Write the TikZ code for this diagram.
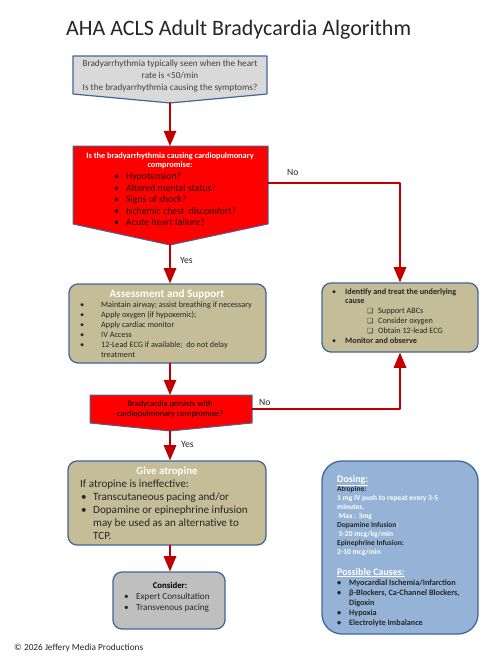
\documentclass[tikz,border=0pt]{standalone}
\usepackage{fontspec}
\setmainfont{Carlito}
\newfontfamily\symfont{DejaVu Sans}
\usetikzlibrary{arrows}
\definecolor{boxline}{HTML}{41679A}
\definecolor{boxgray}{HTML}{D9D9D9}
\definecolor{consgray}{HTML}{BFBFBF}
\definecolor{boxtan}{HTML}{C4BD97}
\definecolor{dosblue}{HTML}{95B3D7}
\definecolor{flowred}{HTML}{C00000}
\definecolor{darktext}{HTML}{262626}

\begin{document}
\begin{tikzpicture}[line cap=round,line join=round,>=triangle 45,x=1pt,y=-1pt,
    rbox/.style={draw=boxline,line width=1.3pt,rounded corners=9pt,fill=boxtan,inner sep=0pt},
    flow/.style={->,draw=flowred,line width=2.6pt},
    lbl/.style={anchor=base west,inner sep=0pt,text=darktext},
    ctr/.style={anchor=base,inner sep=0pt,text=darktext}]
      \useasboundingbox (0,0) rectangle (500,667);
      \fill[white] (0,0) rectangle (500,667);

      % title
      \node[lbl,font=\fontsize{22}{26}\selectfont] (title) at (66,35) {AHA ACLS Adult Bradycardia Algorithm};

      % start box
      \filldraw[fill=boxgray,draw=boxline,line width=1.2pt] (73,56) -- (267,56) -- (267,94) -- (170,103) -- (73,94) -- cycle;
      \coordinate (q0) at (170,103);
      \node[ctr,text=black!75,font=\fontsize{9.2}{11}\selectfont] (q0a) at (170,66) {Bradyarrhythmia typically seen when the heart};
      \node[ctr,text=black!75,font=\fontsize{9.2}{11}\selectfont] (q0b) at (170,78) {rate is <50/min};
      \node[ctr,text=black!75,font=\fontsize{9.2}{11}\selectfont] (q0c) at (170,90) {Is the bradyarrhythmia causing the symptoms?};

      % first decision
      \filldraw[fill=red,draw=boxline,line width=1pt] (73,146) -- (268,146) -- (268,224) -- (170,245) -- (73,224) -- cycle;
      \coordinate (q1 top) at (170,146);
      \coordinate (q1 tip) at (170,245);
      \coordinate (q1 east) at (268,183);
      \node[ctr,text=white,font=\bfseries\fontsize{8.3}{10}\selectfont] (q1a) at (170,158.5) {Is the bradyarrhythmia causing cardiopulmonary};
      \node[ctr,text=white,font=\bfseries\fontsize{8.3}{10}\selectfont] (q1b) at (170,167.5) {compromise:};
      \foreach \y/\t in {179/Hypotension?,191/Altered mental status?,202/Signs of shock?,214/Ischemic chest\ \ discomfort?,225/Acute heart failure?}{
        \node[lbl,text=black!85!red,font=\fontsize{9.8}{12}\selectfont] at (114,\y) {•};
        \node[lbl,text=black!85!red,font=\fontsize{9.8}{12}\selectfont] at (126,\y) {\t};
      }

      % assessment and support
      \node[rbox,minimum width=197pt,minimum height=79pt] (assess) at (167.5,323.5) {};
      \node[ctr,text=white,font=\bfseries\fontsize{11.2}{13}\selectfont] (assesst) at (167,297) {Assessment and Support};
      \foreach \y/\t in {307/{Maintain airway; assist breathing if necessary},317/{Apply oxygen (if hypoxemic);},327/{Apply cardiac monitor},337/{IV Access},347.5/{12-Lead ECG if available;\ \ do not delay}}{
        \node[lbl,font=\fontsize{8.2}{10}\selectfont] at (80,\y) {•};
        \node[lbl,font=\fontsize{8.2}{10}\selectfont] at (101,\y) {\t};
      }
      \node[lbl,font=\fontsize{8.2}{10}\selectfont] at (101,357.5) {treatment};

      % treat underlying cause
      \node[rbox,minimum width=156pt,minimum height=69pt] (treat) at (400,317.5) {};
      \node[lbl,font=\fontsize{8.2}{10}\selectfont] at (332,294.5) {•};
      \node[lbl,font=\bfseries\fontsize{8.2}{10}\selectfont] at (345,294.5) {Identify and treat the underlying};
      \node[lbl,font=\bfseries\fontsize{8.2}{10}\selectfont] at (345,303.5) {cause};
      \foreach \y/\t in {313.5/Support ABCs,323.5/Consider oxygen,333.5/Obtain 12-lead ECG}{
        \node[lbl,font=\symfont\fontsize{7}{8}\selectfont] at (367,\y) {❑};
        \node[lbl,font=\fontsize{8.2}{10}\selectfont] at (378,\y) {\t};
      }
      \node[lbl,font=\fontsize{8.2}{10}\selectfont] at (332,343.5) {•};
      \node[lbl,font=\bfseries\fontsize{8.2}{10}\selectfont] at (345,343.5) {Monitor and observe};

      % second decision
      \filldraw[fill=red,draw=boxline,line width=1pt] (90,395) -- (252,395) -- (252,423) -- (170,431) -- (90,423) -- cycle;
      \coordinate (q2 top) at (170,395);
      \coordinate (q2 tip) at (170,431);
      \coordinate (q2 east) at (252,409);
      \node[ctr,text=black,font=\fontsize{8.4}{10}\selectfont] (q2a) at (170,406.5) {Bradycardia persists with};
      \node[ctr,text=black,font=\fontsize{8.4}{10}\selectfont] (q2b) at (170,416.5) {cardiopulmonary compromise?};

      % atropine
      \node[rbox,minimum width=198pt,minimum height=84pt] (atro) at (167,503) {};
      \node[ctr,text=white,font=\bfseries\fontsize{10.9}{13}\selectfont] (atrot) at (167,474) {Give atropine};
      \node[lbl,font=\fontsize{11.1}{13}\selectfont] at (80,487.5) {If atropine is ineffective:};
      \foreach \y/\t in {500.5/{Transcutaneous pacing and/or},513.5/{Dopamine or epinephrine infusion}}{
        \node[lbl,font=\fontsize{11.1}{13}\selectfont] at (81,\y) {•};
        \node[lbl,font=\fontsize{11.1}{13}\selectfont] at (93,\y) {\t};
      }
      \node[lbl,font=\fontsize{11.1}{13}\selectfont] at (93,526.5) {may be used as an alternative to};
      \node[lbl,font=\fontsize{11.1}{13}\selectfont] at (93,539.5) {TCP.};

      % consider
      \node[rbox,fill=consgray,minimum width=112pt,minimum height=57pt] (cons) at (169,600.5) {};
      \node[ctr,text=black,font=\bfseries\fontsize{8.8}{10}\selectfont] (const) at (170,588) {Consider:};
      \foreach \y/\t in {599.5/Expert Consultation,610.5/Transvenous pacing}{
        \node[lbl,font=\fontsize{9.2}{11}\selectfont] at (124,\y) {•};
        \node[lbl,font=\fontsize{9.2}{11}\selectfont] at (136,\y) {\t};
      }

      % dosing and causes
      \node[rbox,fill=dosblue,rounded corners=20pt,minimum width=156pt,minimum height=173pt] (dose) at (400,547.5) {};
      \node[lbl,text=white,font=\bfseries\fontsize{10}{12}\selectfont] at (337,482) {\underline{Dosing:}};
      \node[lbl,font=\bfseries\fontsize{7.5}{9}\selectfont] at (337,491.5) {Atropine:};
      \node[lbl,text=white,font=\bfseries\fontsize{7.5}{9}\selectfont] at (337,500.5) {1 mg IV push to repeat every 3-5};
      \node[lbl,text=white,font=\bfseries\fontsize{7.5}{9}\selectfont] at (337,509.5) {minutes.};
      \node[lbl,text=white,font=\bfseries\fontsize{7.5}{9}\selectfont] at (337,518.5) {\ Max : 3mg};
      \node[lbl,font=\bfseries\fontsize{7.5}{9}\selectfont] at (337,527.5) {Dopamine Infusion\textcolor{white}{:}};
      \node[lbl,text=white,font=\bfseries\fontsize{7.5}{9}\selectfont] at (337,536.5) {\ 5-20 mcg/kg/min};
      \node[lbl,font=\bfseries\fontsize{7.5}{9}\selectfont] at (337,545.5) {Epinephrine Infusion:};
      \node[lbl,text=white,font=\bfseries\fontsize{7.5}{9}\selectfont] at (337,554.5) {2-10 mcg/min};
      \node[lbl,text=white,font=\bfseries\fontsize{10}{12}\selectfont] at (337,575) {\underline{Possible Causes:}};
      \foreach \y/\t in {585/{Myocardial Ischemia/Infarction},595/{β-Blockers, Ca-Channel Blockers,},615/{Hypoxia},625/{Electrolyte Imbalance}}{
        \node[lbl,font=\bfseries\fontsize{8.2}{10}\selectfont] at (337,\y) {•};
        \node[lbl,font=\bfseries\fontsize{8.2}{10}\selectfont] at (349,\y) {\t};
      }
      \node[lbl,font=\bfseries\fontsize{8.2}{10}\selectfont] at (349,605) {Digoxin};

      % connectors
      \draw[flow] (q0) -- (q1 top);
      \draw[flow] (q1 tip) -- (q1 tip |- assess.north);
      \draw[flow] (q1 east) -| (treat.north);
      \draw[flow] (assess.south -| q1 tip) -- (q2 top);
      \draw[flow] (q2 east) -| (treat.south);
      \draw[flow] (q2 tip) -- (q2 tip |- atro.north);
      \draw[flow] (atro.south -| q2 tip) -- (q2 tip |- cons.north);

      \node[lbl,font=\fontsize{9.6}{11}\selectfont] (no1) at (287,175) {No};
      \node[lbl,font=\fontsize{9.6}{11}\selectfont] (yes1) at (180,263) {Yes};
      \node[lbl,font=\fontsize{9.6}{11}\selectfont] (no2) at (259,405) {No};
      \node[lbl,font=\fontsize{9.6}{11}\selectfont] (yes2) at (181,447) {Yes};

      % footer
      \node[lbl,font=\fontsize{9.3}{11}\selectfont] (copy) at (14,650) {© 2026 Jeffery Media Productions};
    \end{tikzpicture}
\end{document}
